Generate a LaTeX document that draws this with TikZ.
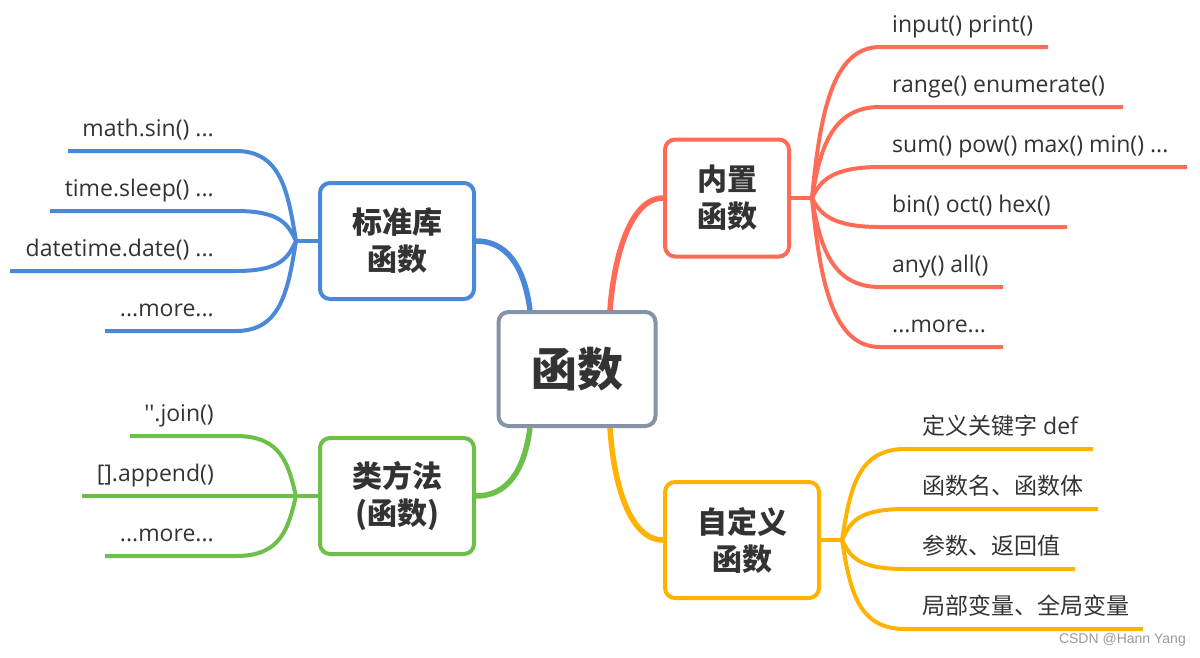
\documentclass[tikz,border=0pt]{standalone}
\usepackage{fontspec}
\setmainfont{Open Sans}
\newfontfamily\cjk{Noto Sans CJK SC}
\newfontfamily\wm{Liberation Sans}
\usetikzlibrary{calc,backgrounds}
\definecolor{cred}{HTML}{FF6B57}
\definecolor{cblue}{HTML}{4A88D9}
\definecolor{cgreen}{HTML}{6CC04A}
\definecolor{cyel}{HTML}{FFB300}
\definecolor{cgray}{HTML}{8692A6}
\definecolor{ctext}{HTML}{333333}
\begin{document}
\begin{tikzpicture}[x=1pt,y=-1pt,
  box/.style={draw, line width=4pt, rounded corners=10pt, fill=white, text=ctext,
    align=center, inner sep=0pt, font=\cjk\bfseries\fontsize{30}{37}\selectfont},
  leaf/.style={text=ctext, inner sep=0pt, font=\fontsize{23}{26}\selectfont},
  branch/.style={line width=5.5pt},
  twig/.style={line width=4pt},
]
\useasboundingbox (0,0) rectangle (1200,657);

% boxes
\node[box, draw=cgray, minimum width=157pt, minimum height=114pt,
  font=\cjk\bfseries\fontsize{46}{50}\selectfont] (c) at (577,369) {函数};
\node[box, draw=cred, minimum width=124pt, minimum height=117pt] (rb) at (727,198) {内置\\函数};
\node[box, draw=cblue, minimum width=154pt, minimum height=116pt] (bb) at (397,241) {标准库\\函数};
\node[box, draw=cgreen, minimum width=154pt, minimum height=116pt] (gb) at (397,496) {类方法\\(函数)};
\node[box, draw=cyel, minimum width=154pt, minimum height=116pt] (yb) at (742,540) {自定义\\函数};

% joints
\coordinate (jr) at (812,198);
\coordinate (jb) at (296,241);
\coordinate (jg) at (296,496);
\coordinate (jy) at (842,540);

\begin{scope}[on background layer]
  \draw[branch,cred] ($(c.north)+(33,0)$) .. controls +(4,-55) and +(-32,0) .. (rb.west);
  \draw[branch,cblue] ($(c.north)+(-47,0)$) .. controls +(-6,-45) and +(30,0) .. (bb.east);
  \draw[branch,cgreen] ($(c.south)+(-47,0)$) .. controls +(-6,45) and +(30,0) .. (gb.east);
  \draw[branch,cyel] ($(c.south)+(33,0)$) .. controls +(4,60) and +(-32,0) .. (yb.west);
\end{scope}

\draw[twig,cred] (rb.east) -- (jr);
\draw[twig,cblue] (bb.west) -- (jb);
\draw[twig,cgreen] (gb.west) -- (jg);
\draw[twig,cyel] (yb.east) -- (jy);

% red leaves
\foreach \y/\e/\t [count=\i] in {47/1048/{input() print()}, 107/1123/{range() enumerate()},
  167/1187/{sum() pow() max() min() ...}, 227/1067/{bin() oct() hex()},
  287/1003/{any() all()}, 347/1003/{...more...}} {
  \pgfmathsetmacro\dy{0.55*(\y-198)}
  \coordinate (r\i s) at (880,\y);
  \coordinate (r\i e) at (\e,\y);
  \draw[twig,cred] (jr) .. controls +(8,\dy) and +(-48,0) .. (r\i s) -- (r\i e);
  \node[leaf,anchor=base west] (r\i t) at (892,\y-15) {\t};
}

% blue leaves
\foreach \y/\e/\t [count=\i] in {151/68/{math.sin() ...}, 211/50/{time.sleep() ...},
  271/10/{datetime.date() ...}, 331/105/{...more...}} {
  \pgfmathsetmacro\dy{0.55*(\y-241)}
  \coordinate (b\i s) at (236,\y);
  \coordinate (b\i e) at (\e,\y);
  \draw[twig,cblue] (jb) .. controls +(-8,\dy) and +(45,0) .. (b\i s) -- (b\i e);
  \node[leaf,anchor=base east] (b\i t) at (214,\y-15) {\t};
}

% green leaves
\foreach \y/\e/\t [count=\i] in {436/130/{\textquotesingle\textquotesingle.join()},
  496/82/{[].append()}, 556/105/{...more...}} {
  \pgfmathsetmacro\dy{0.55*(\y-496)}
  \coordinate (g\i s) at (236,\y);
  \coordinate (g\i e) at (\e,\y);
  \draw[twig,cgreen] (jg) .. controls +(-8,\dy) and +(45,0) .. (g\i s) -- (g\i e);
  \node[leaf,anchor=base east] (g\i t) at (214,\y-15) {\t};
}

% yellow leaves
\foreach \y/\e/\t [count=\i] in {449/1093/{{\cjk 定义关键字} def}, 509/1098/{{\cjk 函数名、函数体}},
  569/1075/{{\cjk 参数、返回值}}, 629/1143/{{\cjk 局部变量、全局变量}}} {
  \pgfmathsetmacro\dy{0.55*(\y-540)}
  \coordinate (y\i s) at (905,\y);
  \coordinate (y\i e) at (\e,\y);
  \draw[twig,cyel] (jy) .. controls +(8,\dy) and +(-48,0) .. (y\i s) -- (y\i e);
  \node[leaf,anchor=base west] (y\i t) at (922,\y-15) {\t};
}

\node[text=black!40, inner sep=0pt, anchor=east, font=\wm\fontsize{14}{16}\selectfont] (wm) at (1186,640) {CSDN @Hann Yang};
\end{tikzpicture}
\end{document}
